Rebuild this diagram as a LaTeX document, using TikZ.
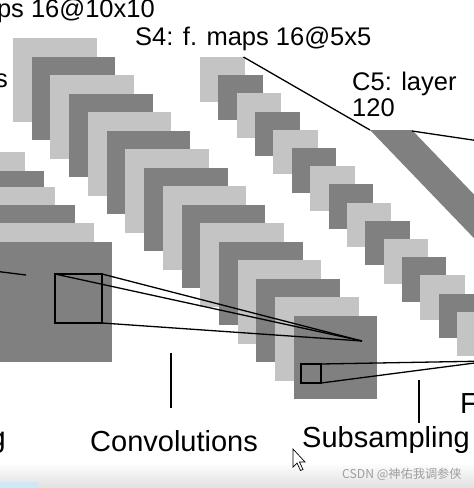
\documentclass[tikz,border=0pt]{standalone}
\usepackage{fontspec}
\setmainfont{Liberation Sans}
\newfontfamily\cjk{Noto Sans CJK SC}
\definecolor{lgray}{RGB}{196,196,196}
\definecolor{dgray}{RGB}{128,128,128}
\definecolor{lblue}{RGB}{205,232,246}
\tikzset{
  toplabel/.style={anchor=base west,inner sep=0,font=\fontsize{25.5}{28}\selectfont},
  botlabel/.style={anchor=base west,inner sep=0,font=\fontsize{29}{32}\selectfont},
  link/.style={draw=black,line width=1.3pt},
  smallsq/.style={draw=black,line width=1.5pt,inner sep=0,outer sep=0}
}
\begin{document}
\begin{tikzpicture}[x=1pt,y=-1pt]
\useasboundingbox (0,0) rectangle (474,488);
\clip (0,0) rectangle (474,488);
\fill[white] (0,0) rectangle (474,488);
\shade[top color=white,bottom color=black!12] (0,462) rectangle (474,488);
\fill[lblue] (0,482) rectangle (38,488);

% stack A (partly visible)
\fill[lgray] (-95,152) rectangle (25,272);
\fill[dgray] (-76,171) rectangle (44,291);
\fill[lgray] (-65,187) rectangle (55,307);
\fill[dgray] (-45,205) rectangle (75,325);
\fill[lgray] (-26,223) rectangle (94,343);
\fill[dgray] (-8,242) rectangle (112,362);

% stack B : 16 maps 10x10
\foreach \i in {0,...,15}{
  \ifodd\i \def\cc{dgray}\else\def\cc{lgray}\fi
  \fill[\cc] ({13+18.73*\i},{38+18.53*\i}) rectangle +(83.5,83.5);
}

% stack C : 16 maps 5x5
\foreach \i in {0,...,15}{
  \ifodd\i \def\cc{dgray}\else\def\cc{lgray}\fi
  \fill[\cc] ({200+18.36*\i},{57+18.2*\i}) rectangle +(44.5,44.5);
}

% C5 band
\fill[dgray] (370,130) -- (412,130) -- (612,338) -- (570,338) -- cycle;

% small squares
\node[smallsq,minimum width=47pt,minimum height=49pt] (sqA) at (78.5,298.5) {};
\node[smallsq,minimum width=20pt,minimum height=19pt] (sqB) at (311,373.5) {};

\coordinate (pB) at (362,341);
\coordinate (pF) at (490,361);
\coordinate (offA) at (-30,268);
\coordinate (inA) at (26,275);
\coordinate (s4tr) at (243.5,57);
\coordinate (c5tl) at (370,130);
\coordinate (c5tr) at (412,131);
\coordinate (offC) at (540,150);
\coordinate (t1a) at (171,353);
\coordinate (t1b) at (171,408);
\coordinate (t2a) at (419,380);
\coordinate (t2b) at (419,423);

\draw[link] (offA) -- (inA);
\draw[link] (sqA.north west) -- (pB);
\draw[link] (sqA.north east) -- (pB);
\draw[link] (sqA.south east) -- (pB);
\draw[link] (sqB.north east) -- (pF);
\draw[link] (sqB.south east) -- (pF);
\draw[link] (s4tr) -- (c5tl);
\draw[link] (c5tr) -- (offC);
\draw[line width=1.5pt] (t1a) -- (t1b);
\draw[line width=1.5pt] (t2a) -- (t2b);

% labels
\node[toplabel,anchor=base east] (lC3) at (155,17) {C3: f. maps 16@10x10};
\node[toplabel,anchor=base east] (lS2) at (8,87) {S2: f. maps};
\node[toplabel] (lS4) at (135,45) {S4: f. maps 16@5x5};
\node[toplabel] (lC5a) at (352,90) {C5: layer};
\node[toplabel] (lC5b) at (352,116) {120};
\node[botlabel,anchor=base east] (lSubA) at (6,447) {Subsampling};
\node[botlabel] (lConv) at (90,451) {Convolutions};
\node[botlabel] (lSub) at (302,447.5) {Subsampling};
\node[botlabel] (lFull) at (460,413) {Full connection};

% watermark
\node[anchor=base west,inner sep=0,text=black!38,font=\cjk\fontsize{12.2}{14}\selectfont] (wm) at (342,478) {CSDN @神佑我调参侠};

% mouse cursor
\draw[fill=white,line width=0.7pt,line join=miter] (293,449) -- (293,467) -- (297,463) -- (300.5,470.5) -- (303,469.5) -- (299.5,462) -- (305,462) -- cycle;
\end{tikzpicture}
\end{document}
